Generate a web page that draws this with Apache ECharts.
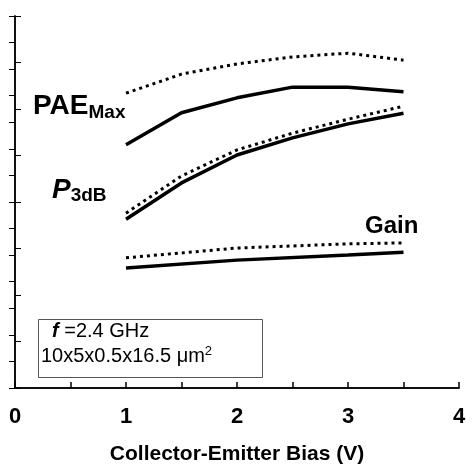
<!DOCTYPE html><html><head><meta charset="utf-8"><script src="https://cdn.jsdelivr.net/npm/echarts@6/dist/echarts.min.js"></script></head><body style="margin:0"><div id="c" style="width:474px;height:474px"></div><script>
const xs=[1,1.5,2,2.5,3,3.5];
const paeSolid=[5.23,5.92,6.24,6.47,6.47,6.37];
const paeDot=[6.34,6.75,6.97,7.12,7.2,7.05];
const p3Solid=[3.63,4.41,5.01,5.38,5.68,5.91];
const p3Dot=[3.76,4.56,5.12,5.48,5.78,6.06];
const gxs=[1,2,3,3.5];
const gainSolid=[2.58,2.75,2.86,2.92];
const gainDot=[2.80,3.01,3.10,3.12];
const xTicks=['0','1','2','3','4'];
const z=(a,b)=>a.map((v,i)=>[v,b[i]]);
const ch=echarts.init(document.getElementById('c'));
const F='Liberation Sans, Arial, sans-serif';
const ln=(d,dot)=>({type:'line',data:d,symbol:'none',lineStyle:{color:'#000',width:dot?3:3.5,type:dot?[3,4]:'solid'},animation:false});
ch.setOption({
grid:{left:15,right:15,top:16,bottom:86},
xAxis:[{type:'value',min:0,max:4,interval:0.5,axisLine:{lineStyle:{color:'#000',width:1.5}},axisTick:{show:true,inside:true,length:6,lineStyle:{color:'#000',width:1.5}},splitLine:{show:false},
 axisLabel:{margin:18,color:'#000',fontFamily:F,fontSize:22,fontWeight:'bold',formatter:v=>Number.isInteger(v)?xTicks[v]:''},
 name:'Collector-Emitter Bias (V)',nameLocation:'middle',nameGap:56,nameTextStyle:{color:'#000',fontFamily:F,fontSize:21,fontWeight:'bold'}},
 {type:'value',min:0,max:4,position:'top',axisLine:{show:true,lineStyle:{color:'#000',width:1.5}},axisTick:{show:false},axisLabel:{show:false},splitLine:{show:false}}],
yAxis:[{type:'value',min:0,max:8,interval:1,axisLine:{show:true,lineStyle:{color:'#000',width:1.5}},axisTick:{show:true,inside:true,length:6,lineStyle:{color:'#000'}},axisLabel:{show:false},splitLine:{show:false}},
{type:'value',min:0,max:14,interval:1,position:'right',axisLine:{show:true,lineStyle:{color:'#000',width:1.5}},axisTick:{show:true,inside:true,length:6,lineStyle:{color:'#000'}},axisLabel:{show:false},splitLine:{show:false}}],
series:[ln(z(xs,paeSolid)),ln(z(xs,paeDot),1),ln(z(xs,p3Solid)),ln(z(xs,p3Dot),1),ln(z(gxs,gainSolid)),ln(z(gxs,gainDot),1),
 {type:'line',data:[],yAxisIndex:1,xAxisIndex:1}],
graphic:[
 {type:'rect',left:38,top:319,shape:{width:224,height:58},style:{fill:'#fff',stroke:'#555',lineWidth:1}},
 {type:'text',left:52,top:321,style:{text:'{i|f} =2.4 GHz',fill:'#000',font:'20px '+F,rich:{i:{fontStyle:'italic',fontWeight:'bold',fontSize:20,fontFamily:F}}}},
 {type:'text',left:41,top:345,style:{text:'10x5x0.5x16.5 {m|μ}m{s|2}',fill:'#000',font:'20px '+F,rich:{m:{fontSize:20,fontFamily:F},s:{fontSize:13,verticalAlign:'top',padding:[0,0,10,0]}}}},
 {type:'text',left:33,top:92,style:{text:'PAE{s|Max}',fill:'#000',font:'bold 28px '+F,rich:{s:{font:'bold 19px '+F,padding:[14,0,0,0]}}}},
 {type:'text',left:52,top:176,style:{text:'{p|P}{s|3dB}',fill:'#000',font:'bold 28px '+F,rich:{p:{font:'italic bold 28px '+F},s:{font:'bold 19px '+F,padding:[12,0,0,0]}}}},
 {type:'text',left:365,top:214,style:{text:'Gain',fill:'#000',font:'bold 24px '+F}}
]});
</script></body></html>
